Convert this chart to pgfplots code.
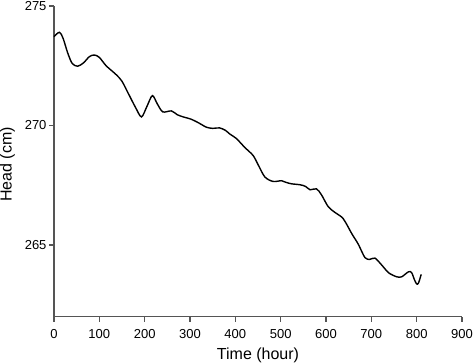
\documentclass[border=0pt]{standalone}
\usepackage{pgfplots}
\pgfplotsset{compat=1.18}
\usepackage{fontspec}
\setmainfont{Liberation Sans}
\definecolor{axgray}{HTML}{555555}
\begin{document}
\begin{tikzpicture}
\begin{axis}[
  scale only axis,
  width=408bp, height=310.7bp,
  xmin=0, xmax=900, ymin=262, ymax=275,
  axis lines=left,
  axis line style={axgray, line width=1.3bp, -},
  xtick={0,100,...,900},
  ytick={265,270,275},
  tick style={axgray, line width=1.1bp},
  tick align=outside,
  major tick length=5bp,
  /pgf/number format/assume math mode=true,
  /pgf/number format/1000 sep={},
  tick label style={font=\fontsize{13bp}{15bp}\selectfont},
  xticklabel style={yshift=-4.5bp},
  yticklabel style={xshift=1bp},
  label style={font=\fontsize{16bp}{19bp}\selectfont},
  xlabel={Time (hour)},
  ylabel={Head (cm)},
  xlabel style={at={(rel axis cs:0.5,0)}, anchor=base, yshift=-42.3bp},
  ylabel style={at={(rel axis cs:0,0.5)}, anchor=center, yshift=46.5bp, xshift=-3bp},
  clip=false,
]
\addplot[black, line width=1.4bp, smooth, tension=0.5] coordinates {
(0,273.72) (12,273.9) (20,273.65) (30,273.05) (40,272.6) (52,272.48)
(65,272.62) (78,272.88) (89,272.95) (100,272.85) (115,272.5) (137,272.13)
(150,271.85) (165,271.3) (180,270.75) (193,270.36) (205,270.8) (217,271.25)
(228,270.9) (240,270.57) (259,270.61) (272,270.45) (285,270.36) (303,270.26)
(320,270.1) (336,269.93) (350,269.88) (365,269.9) (378,269.8) (388,269.64)
(402,269.46) (421,269.08) (439,268.75) (450,268.37) (465,267.85) (483,267.66)
(502,267.69) (512,267.62) (524,267.56) (543,267.52) (555,267.45) (565,267.31)
(579,267.35) (590,267.1) (605,266.6) (620,266.36) (638,266.1) (657,265.47)
(671,265.04) (686,264.47) (697,264.4) (708,264.45) (723,264.16) (738,263.84)
(756,263.67) (767,263.67) (782,263.88) (789,263.84) (795,263.55) (800,263.37)
(804,263.41) (810,263.77)
};
\coordinate (BL) at (rel axis cs:0,0);
\coordinate (TR) at (rel axis cs:1,1);
\end{axis}
\pgfresetboundingbox
\path[use as bounding box] ([xshift=-54bp,yshift=-47.3bp]BL) rectangle ([xshift=12bp,yshift=6bp]TR);
\end{tikzpicture}
\end{document}
